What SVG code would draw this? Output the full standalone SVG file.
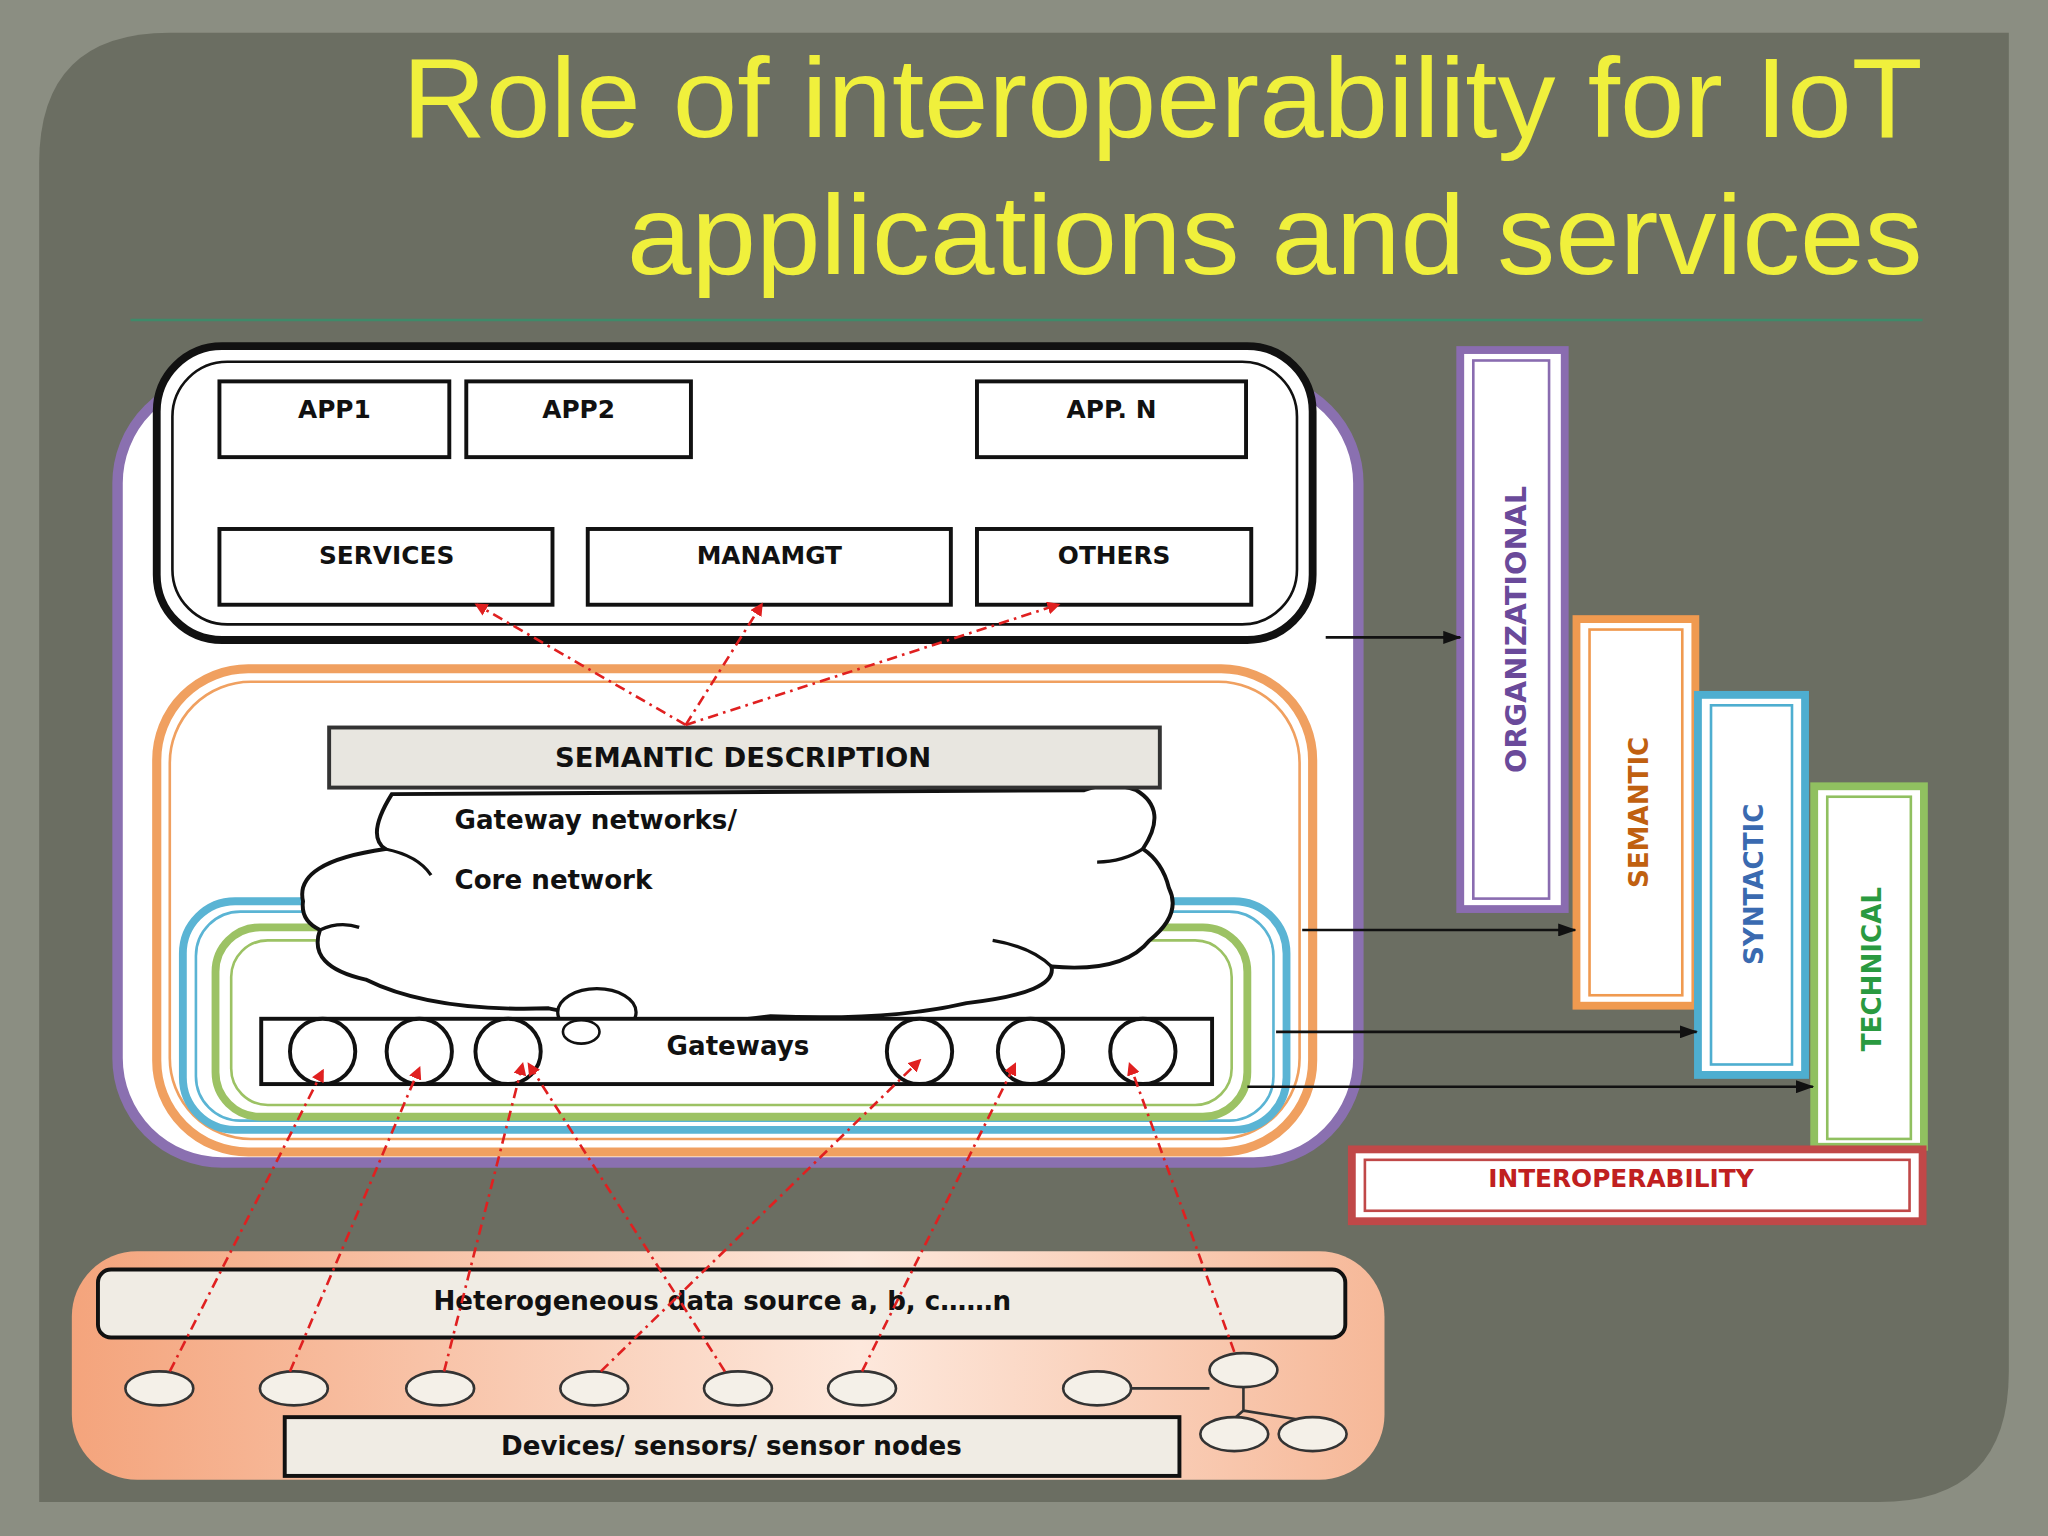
<svg xmlns="http://www.w3.org/2000/svg" width="2048" height="1536" viewBox="0 0 2048 1536">
<defs>
<style>
.bx{fill:#fff;stroke:#111;stroke-width:3}
.t{font-family:"DejaVu Sans","Liberation Sans",sans-serif;font-weight:bold;fill:#111}
.red{stroke:#e02020;stroke-width:2;fill:none;stroke-dasharray:8 4 2 4;marker-end:url(#ra)}
.blk{stroke:#111;stroke-width:2;fill:none;marker-end:url(#ba)}
.c{fill:#fff;stroke:#111;stroke-width:3}
.e{fill:#f4f0e8;stroke:#333;stroke-width:2}
</style>
<marker id="ra" markerWidth="10" markerHeight="10" refX="8" refY="5" orient="auto" markerUnits="userSpaceOnUse"><path d="M0,0 L10,5 L0,10 z" fill="#e02020"/></marker>
<marker id="ba" markerWidth="14" markerHeight="10" refX="13" refY="5" orient="auto" markerUnits="userSpaceOnUse"><path d="M0,0 L14,5 L0,10 z" fill="#111"/></marker>
<linearGradient id="pg" x1="0" y1="0" x2="1" y2="0"><stop offset="0" stop-color="#f4a47c"/><stop offset="0.6" stop-color="#fde8dc"/><stop offset="1" stop-color="#f6b898"/></linearGradient>
</defs>
<rect width="2048" height="1536" fill="#8b8e82"/>
<g transform="scale(1.30612)">
<path d="M130,25 H1538 V1050 Q1538,1150 1438,1150 H30 V125 Q30,25 130,25 z" fill="#6b6e62"/>
<g id="title" font-family="Liberation Sans,Arial,sans-serif" font-size="86" fill="#f0f03c">
<text x="308" y="105" textLength="1164" lengthAdjust="spacingAndGlyphs">Role of interoperability for IoT</text>
<text x="480" y="210" textLength="992" lengthAdjust="spacingAndGlyphs">applications and services</text>
</g>
<line x1="100" y1="245" x2="1472" y2="245" stroke="#3f8a6a" stroke-width="2"/>
<g id="purple"><rect x="90" y="290" width="950" height="600" rx="80" fill="#fff" stroke="#8a70b0" stroke-width="8"/><rect x="97" y="297" width="936" height="586" rx="74" fill="none" stroke="#fff" stroke-width="2"/></g>
<g id="appframe"><rect x="120" y="265" width="885" height="225" rx="50" fill="#fff" stroke="#111" stroke-width="6"/><rect x="132" y="277" width="861" height="201" rx="42" fill="none" stroke="#111" stroke-width="2"/></g>
<g id="app1"><rect class="bx" x="168" y="292" width="176" height="58"/><text class="t" x="256" y="320" font-size="19" text-anchor="middle">APP1</text></g>
<g id="app2"><rect class="bx" x="357" y="292" width="172" height="58"/><text class="t" x="443" y="320" font-size="19" text-anchor="middle">APP2</text></g>
<g id="appn"><rect class="bx" x="748" y="292" width="206" height="58"/><text class="t" x="851" y="320" font-size="19" text-anchor="middle">APP. N</text></g>
<g id="services"><rect class="bx" x="168" y="405" width="255" height="58"/><text class="t" x="296" y="432" font-size="19" text-anchor="middle">SERVICES</text></g>
<g id="manamgt"><rect class="bx" x="450" y="405" width="278" height="58"/><text class="t" x="589" y="432" font-size="19" text-anchor="middle">MANAMGT</text></g>
<g id="others"><rect class="bx" x="748" y="405" width="210" height="58"/><text class="t" x="853" y="432" font-size="19" text-anchor="middle">OTHERS</text></g>
<g id="orange"><rect x="120" y="512" width="885" height="370" rx="70" fill="none" stroke="#f0a060" stroke-width="7"/><rect x="130" y="522" width="865" height="350" rx="62" fill="none" stroke="#f0a060" stroke-width="2"/></g>
<g id="blue"><rect x="140" y="690" width="845" height="175" rx="40" fill="none" stroke="#5ab4d4" stroke-width="6"/><rect x="150" y="698" width="825" height="160" rx="34" fill="none" stroke="#5ab4d4" stroke-width="2"/></g>
<g id="green"><rect x="165" y="710" width="790" height="145" rx="34" fill="none" stroke="#9cc264" stroke-width="6"/><rect x="177" y="720" width="766" height="126" rx="28" fill="none" stroke="#9cc264" stroke-width="2"/></g>
<g id="cloud"><path d="M300,608 Q280,640 295,650 Q225,660 232,690 Q230,705 245,712 Q235,740 280,750 Q330,775 420,772 Q500,790 590,778 Q680,782 740,768 Q810,760 805,740 Q860,745 880,720 Q905,700 895,680 Q890,660 875,650 Q895,620 870,605 Q850,598 830,605 Z" fill="#fff" stroke="#111" stroke-width="3"/>
<path d="M245,712 Q260,705 275,710 M805,740 Q790,725 760,720 M295,650 Q320,655 330,670 M875,650 Q860,660 840,660" fill="none" stroke="#111" stroke-width="2.5"/>
<ellipse cx="457" cy="775" rx="30" ry="18" fill="#fff" stroke="#111" stroke-width="2.5"/><ellipse cx="440" cy="790" rx="15" ry="9" fill="#fff" stroke="#111" stroke-width="2.5"/>
<text class="t" x="348" y="635" font-size="20">Gateway networks/</text><text class="t" x="348" y="681" font-size="20">Core network</text></g>
<g id="semdesc"><rect x="252" y="557" width="636" height="46" fill="#e8e6e0" stroke="#333" stroke-width="3"/><text class="t" x="569" y="587" font-size="21" text-anchor="middle">SEMANTIC DESCRIPTION</text></g>
<g id="gateways"><rect x="200" y="780" width="728" height="50" fill="#fff" stroke="#111" stroke-width="3"/>
<circle class="c" cx="247" cy="805" r="25"/><circle class="c" cx="321" cy="805" r="25"/><circle class="c" cx="389" cy="805" r="25"/><circle class="c" cx="704" cy="805" r="25"/><circle class="c" cx="789" cy="805" r="25"/><circle class="c" cx="875" cy="805" r="25"/>
<ellipse cx="445" cy="790" rx="14" ry="9" fill="none" stroke="#111" stroke-width="2"/>
<text class="t" x="565" y="808" font-size="20" text-anchor="middle">Gateways</text></g>
<g id="bottompanel"><rect x="55" y="958" width="1005" height="175" rx="50" fill="url(#pg)"/>
<rect x="75" y="972" width="955" height="52" rx="10" fill="#f0ece4" stroke="#111" stroke-width="3"/><text class="t" x="553" y="1003" font-size="20" text-anchor="middle">Heterogeneous data source a, b, c……n</text>
<rect x="218" y="1085" width="685" height="45" fill="#f0ece4" stroke="#111" stroke-width="3"/><text class="t" x="560" y="1114" font-size="20" text-anchor="middle">Devices/ sensors/ sensor nodes</text>
<ellipse class="e" cx="122" cy="1063" rx="26" ry="13"/><ellipse class="e" cx="225" cy="1063" rx="26" ry="13"/><ellipse class="e" cx="337" cy="1063" rx="26" ry="13"/><ellipse class="e" cx="455" cy="1063" rx="26" ry="13"/><ellipse class="e" cx="565" cy="1063" rx="26" ry="13"/><ellipse class="e" cx="660" cy="1063" rx="26" ry="13"/><ellipse class="e" cx="840" cy="1063" rx="26" ry="13"/>
<path d="M866,1063 H926 M952,1062 V1080 M952,1080 L945,1086 M952,1080 L995,1087" stroke="#333" stroke-width="2" fill="none"/>
<ellipse class="e" cx="952" cy="1049" rx="26" ry="13"/><ellipse class="e" cx="945" cy="1098" rx="26" ry="13"/><ellipse class="e" cx="1005" cy="1098" rx="26" ry="13"/></g>
<g id="org"><rect x="1118" y="268" width="80" height="428" fill="#fff" stroke="#8a6cb0" stroke-width="6"/><rect x="1128" y="276" width="58" height="412" fill="none" stroke="#8a6cb0" stroke-width="2"/><text class="t" transform="translate(1168,482) rotate(-90)" font-size="22" text-anchor="middle" style="fill:#6a4a9a">ORGANIZATIONAL</text></g>
<g id="sem"><rect x="1207" y="474" width="91" height="296" fill="#fff" stroke="#f09a50" stroke-width="6"/><rect x="1217" y="482" width="71" height="280" fill="none" stroke="#f09a50" stroke-width="2"/><text class="t" transform="translate(1262,622) rotate(-90)" font-size="20" text-anchor="middle" style="fill:#c06010">SEMANTIC</text></g>
<g id="syn"><rect x="1300" y="532" width="82" height="291" fill="#fff" stroke="#4eaed0" stroke-width="6"/><rect x="1310" y="540" width="62" height="275" fill="none" stroke="#4eaed0" stroke-width="2"/><text class="t" transform="translate(1350,677) rotate(-90)" font-size="20" text-anchor="middle" style="fill:#3a6ab0">SYNTACTIC</text></g>
<g id="tech"><rect x="1389" y="602" width="84" height="276" fill="#fff" stroke="#90c060" stroke-width="6"/><rect x="1399" y="610" width="64" height="262" fill="none" stroke="#90c060" stroke-width="2"/><text class="t" transform="translate(1440,742) rotate(-90)" font-size="20" text-anchor="middle" style="fill:#2a9a40">TECHNICAL</text></g>
<g id="interop"><rect x="1035" y="880" width="437" height="55" fill="#fff" stroke="#c04848" stroke-width="6"/><rect x="1045" y="888" width="417" height="39" fill="none" stroke="#c04848" stroke-width="2"/><text class="t" x="1241" y="909" font-size="19" text-anchor="middle" style="fill:#c02020">INTEROPERABILITY</text></g>
<g id="connectors">
<line class="red" x1="525" y1="555" x2="365" y2="463"/><line class="red" x1="525" y1="555" x2="583" y2="463"/><line class="red" x1="525" y1="555" x2="810" y2="463"/>
<line class="red" x1="130" y1="1050" x2="247" y2="820"/><line class="red" x1="222" y1="1050" x2="321" y2="818"/><line class="red" x1="340" y1="1050" x2="400" y2="815"/><line class="red" x1="555" y1="1050" x2="405" y2="815"/><line class="red" x1="460" y1="1050" x2="704" y2="812"/><line class="red" x1="660" y1="1050" x2="777" y2="815"/><line class="red" x1="945" y1="1035" x2="865" y2="815"/>
<line class="blk" x1="1015" y1="488" x2="1118" y2="488"/><line class="blk" x1="997" y1="712" x2="1206" y2="712"/><line class="blk" x1="977" y1="790" x2="1299" y2="790"/><line class="blk" x1="955" y1="832" x2="1388" y2="832"/>
</g>
</g>
</svg>
